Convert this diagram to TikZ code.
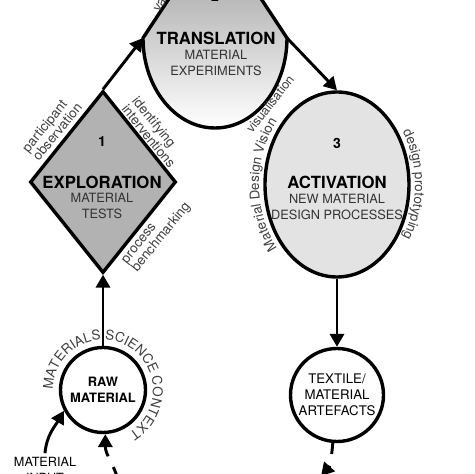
\documentclass[tikz,border=0pt]{standalone}
\usepackage{fontspec}
\setmainfont{TeX Gyre Heros}
\usetikzlibrary{
  positioning,
  calc,
  arrows.meta,
  shapes.geometric,
  decorations.text
}

\begin{document}
\begin{tikzpicture}[
      x=0.03cm, y=0.03cm,
      phase/.style={draw, line width=2.9pt, inner sep=0pt},
      stagecircle/.style={circle, draw, fill=white, line width=2.9pt, inner sep=0pt, align=center, font=\fontsize{11.3}{13.6}\selectfont},
      title/.style={font=\fontsize{14.3}{16}\selectfont\bfseries},
      subtitle/.style={align=center, text=black!80, font=\fontsize{10.9}{13.4}\selectfont},
      number/.style={font=\fontsize{12}{14}\selectfont\bfseries},
      note/.style={align=left, text=black!75, inner sep=0pt, font=\fontsize{11.5}{11.5}\selectfont},
      arrow/.style={-{Triangle[length=11pt, width=12pt]}, line width=2.5pt},
      flow/.style={arrow, dash pattern=on 0.33cm off 0.36cm},
      ringtext/.style={decorate, decoration={text along path, text color=black!75, text align=center}}
    ]
      \fill[white] (0,0) rectangle (474,474);
      \useasboundingbox (0,0) rectangle (474,474);

      % Phases
      \node[phase, diamond, fill=black!30, minimum width=4.38cm, minimum height=5.46cm] (explore) at (103,292) {};
      \node[number] at (102,332) {1};
      \node[title] at (102,292) {EXPLORATION};
      \node[subtitle] at (102,268) {MATERIAL\\TESTS};

      \draw[line width=2.9pt, top color=black!42, bottom color=white] (215,545) -- (143,436)
        arc[start angle=180, end angle=360, x radius=72, y radius=90] -- cycle;
      \coordinate (transL) at (143,436);
      \coordinate (transR) at (287,436);
      \node[number, anchor=base] at (215,472.5) {2};
      \node[title] at (216,436) {TRANSLATION};
      \node[subtitle] at (216,411) {MATERIAL\\EXPERIMENTS};

      \node[phase, ellipse, fill=black!11, minimum width=4.32cm, minimum height=5.55cm] (activate) at (337,289.5) {};
      \node[number] at (337,331) {3};
      \node[title] at (337,292) {ACTIVATION};
      \node[subtitle] at (337,267) {NEW MATERIAL\\DESIGN PROCESSES};

      \node[stagecircle, minimum size=2.55cm, font=\fontsize{11}{13.6}\selectfont\bfseries] (raw) at (103,84) {RAW\\MATERIAL};
      \node[stagecircle, minimum size=2.79cm] (textile) at (337,79) {TEXTILE/\\MATERIAL\\ARTEFACTS};
      \node[align=center, font=\fontsize{10.8}{13.6}\selectfont] (input) at (45,4) {MATERIAL\\INPUT};

      % Arrows
      \draw[arrow] (raw) -- (explore);
      \draw[arrow] (explore.north) -- (transL);
      \draw[arrow] (transR) -- (activate.north);
      \draw[arrow] (activate) -- (textile);
      \draw[arrow] (input.north) to[out=85, in=240] (raw.208);
      \coordinate (feed) at (120,-14);
      \draw[flow, dash phase=0.36cm] (feed) to[out=100, in=-90] (raw.-87);
      \coordinate (outflow) at (321,-2);
      \draw[flow] (textile) to[out=-95, in=48] (outflow);

      % Side annotations
      \node[note, rotate=51] at (52,346.5) {participant\\observation};
      \node[note, rotate=-51] at (154,342) {identifying\\interventions};
      \node[note, rotate=51] at (157,240) {process\\benchmarking};
      \node[note, rotate=52, font=\fontsize{10.8}{11}\selectfont] at (270,370) {visualisation};
      \node[note, rotate=60] at (160,469) {va};

      \path[ringtext, decoration={text={|\fontsize{11.5}{12}\selectfont|MATERIALS SCIENCE CONTEXT}}]
        (103,84) ++(200.5:50) arc[start angle=200.5, end angle=-79.5, radius=50];
      \path[ringtext, decoration={text={|\fontsize{11.5}{12}\selectfont|Material Design Vision}}]
        (337,289.5) ++(250:78 and 98.5) arc[start angle=250, end angle=110, x radius=78, y radius=98.5];
      \path[ringtext, decoration={text={|\fontsize{11.5}{12}\selectfont|design prototyping}}]
        (337,289.5) ++(70:78 and 98.5) arc[start angle=70, end angle=-70, x radius=78, y radius=98.5];
    \end{tikzpicture}
\end{document}
